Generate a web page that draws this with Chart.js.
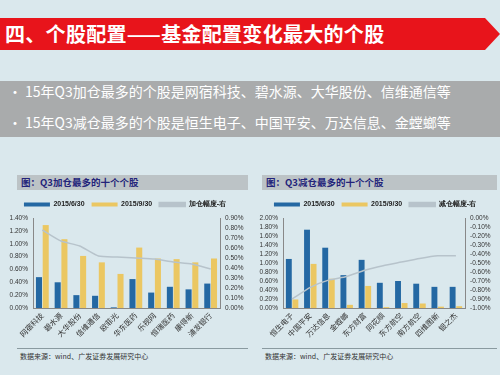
<!DOCTYPE html>
<html>
<head>
<meta charset="utf-8">
<script src="https://cdn.jsdelivr.net/npm/chart.js@4.4.0/dist/chart.umd.min.js"></script>
<style>
  body { margin:0; width:500px; height:375px; background:#dae8ed; position:relative; overflow:hidden; font-family:"Noto Sans CJK SC", sans-serif; }
  .hdr { position:absolute; left:0; top:18px; width:500px; height:32px; background:#e8141b;
         clip-path:polygon(0 0, 485px 0, 500px 50%, 485px 100%, 0 100%); }
  .hdr span { position:absolute; left:5px; top:1px; color:#fff; font-weight:bold; font-size:20px; letter-spacing:0.3px; }
  .gray { position:absolute; left:0; top:81px; width:500px; height:56px; background:#a9abac; }
  .gray div { position:absolute; left:8px; color:#fff; font-size:14px; }
  .gray div b { font-weight:normal; display:inline-block; width:17px; }
  .ttl { position:absolute; top:175px; height:15px; background:#bcc3c6; color:#23237a; font-weight:bold; font-size:9.5px; line-height:15px; padding-left:4px; box-sizing:border-box; }
  .src { position:absolute; top:348px; height:12px; border-top:1px solid #8a9aa0; font-size:7px; color:#333; padding-left:3px; padding-top:2px; box-sizing:border-box; }
  canvas { position:absolute; }
</style>
</head>
<body>
<div class="hdr"><span>四、个股配置——基金配置变化最大的个股</span></div>
<div class="gray">
  <div style="top:0px"><b>•</b>15年Q3加仓最多的个股是网宿科技、碧水源、大华股份、信维通信等</div>
  <div style="top:31px"><b>•</b>15年Q3减仓最多的个股是恒生电子、中国平安、万达信息、金螳螂等</div>
</div>
<div class="ttl" style="left:17px;width:231px">图：Q3加仓最多的十个个股</div>
<div class="ttl" style="left:262px;width:235px">图：Q3减仓最多的十个个股</div>
<canvas id="c1" width="250" height="152" style="left:0;top:194px"></canvas>
<canvas id="c2" width="250" height="152" style="left:250px;top:194px"></canvas>
<div class="src" style="left:17px;width:231px">数据来源：wind、广发证券发展研究中心</div>
<div class="src" style="left:262px;width:235px">数据来源：wind、广发证券发展研究中心</div>
<script>
var seriesNames = ['2015/6/30', '2015/9/30'];

var addStocks = ['网宿科技', '碧水源', '大华股份', '信维通信', '欧菲光', '华东医药', '乐视网', '恒瑞医药', '康得新', '浦发银行'];
var addQ2 = [0.48, 0.40, 0.20, 0.19, 0.01, 0.45, 0.24, 0.33, 0.29, 0.38];
var addQ3 = [1.29, 1.07, 0.81, 0.71, 0.53, 0.94, 0.77, 0.76, 0.71, 0.77];
var addChange = [0.78, 0.67, 0.62, 0.52, 0.51, 0.50, 0.49, 0.46, 0.44, 0.39];

var cutStocks = ['恒生电子', '中国平安', '万达信息', '金螳螂', '东方财富', '同花顺', '东方航空', '南方航空', '四维图新', '银之杰'];
var cutQ2 = [1.09, 1.74, 1.34, 0.73, 1.07, 0.56, 0.60, 0.54, 0.47, 0.47];
var cutQ3 = [0.19, 0.98, 0.65, 0.07, 0.49, 0.02, 0.11, 0.10, 0.03, 0.04];
var cutChange = [-0.90, -0.77, -0.69, -0.65, -0.58, -0.53, -0.49, -0.45, -0.42, -0.42];

var BLUE = '#2468a3', YELLOW = '#ebc762', LINE = '#b7c3cb';
var tickFont = { family: 'Liberation Sans', size: 6.5 };

function pct(v) { return v.toFixed(2) + '%'; }

function makeChart(id, labels, q2, q3, chg, lineName, yMax, r2Min, r2Max, lw, rw) {
  var config = {
    data: {
      labels: labels,
      datasets: [
        { type: 'line', label: lineName, data: chg, yAxisID: 'y2', borderColor: LINE, backgroundColor: LINE,
          borderWidth: 1.5, pointRadius: 0, tension: 0.2, order: 0 },
        { type: 'bar', label: seriesNames[0], data: q2, yAxisID: 'y', backgroundColor: BLUE,
          categoryPercentage: 0.72, barPercentage: 0.9, order: 1 },
        { type: 'bar', label: seriesNames[1], data: q3, yAxisID: 'y', backgroundColor: YELLOW,
          categoryPercentage: 0.72, barPercentage: 0.9, order: 1 }
      ]
    },
    options: {
      responsive: false,
      animation: false,
      layout: { padding: 0 },
      plugins: {
        tooltip: { enabled: false },
        legend: {
          labels: {
            boxWidth: 26, boxHeight: 4, padding: 7,
            font: { family: 'Liberation Sans', size: 7, weight: 'bold' }, color: '#222',
            sort: function(a, b) { return (a.datasetIndex === 0 ? 9 : a.datasetIndex) - (b.datasetIndex === 0 ? 9 : b.datasetIndex); }
          }
        }
      },
      scales: {
        x: {
          grid: { display: false, tickLength: 3, color: '#888' },
          border: { color: '#888' },
          ticks: { autoSkip: false, maxRotation: 45, minRotation: 45, font: { family: 'Noto Sans CJK SC', size: 7.5 }, color: '#333', padding: 0 },
          afterFit: function(s) { s.height = 38; }
        },
        y: {
          min: 0, max: yMax,
          grid: { display: false, tickLength: 3 },
          border: { color: '#888' },
          ticks: { stepSize: 0.2, autoSkip: false, callback: pct, font: tickFont, color: '#333', padding: 2 },
          afterFit: function(s) { s.width = lw; }
        },
        y2: {
          position: 'right', min: r2Min, max: r2Max,
          grid: { display: false, tickLength: 3 },
          border: { color: '#888' },
          ticks: { stepSize: 0.1, autoSkip: false, callback: pct, font: tickFont, color: '#333', padding: 2 },
          afterFit: function(s) { s.width = rw; }
        }
      }
    }
  };
  return new Chart(document.getElementById(id), config);
}

makeChart('c1', addStocks, addQ2, addQ3, addChange, '加仓幅度-右', 1.4, 0, 0.9, 33, 30);
makeChart('c2', cutStocks, cutQ2, cutQ3, cutChange, '减仓幅度-右', 2.0, -1.0, 0, 33, 35);
</script>
</body>
</html>
